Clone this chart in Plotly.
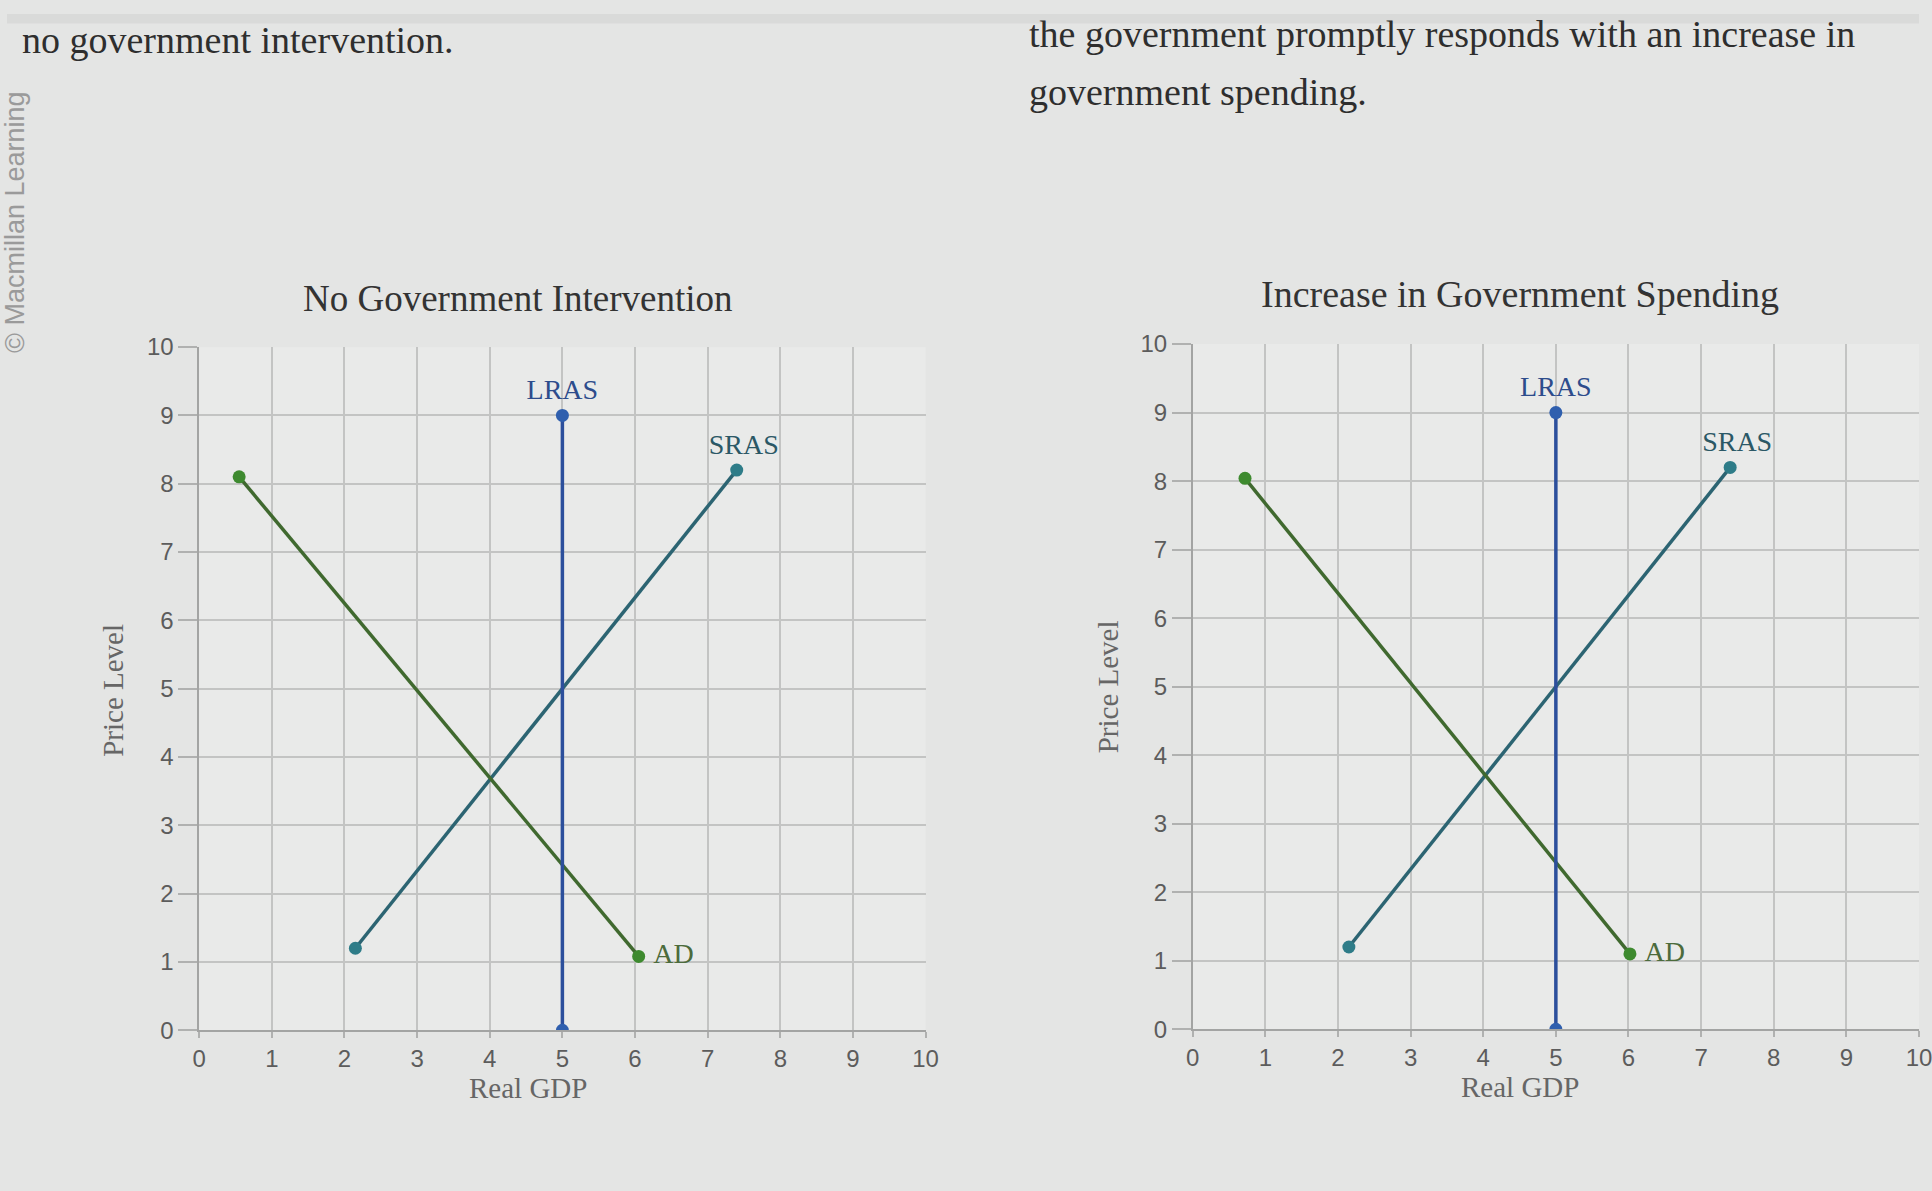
import plotly.graph_objects as go

# ---- data ----
ticks = list(range(0, 11))

left_lras_x = [5, 5]
left_lras_y = [0, 9]
left_sras_x = [2.15, 7.4]
left_sras_y = [1.2, 8.2]
left_ad_x = [0.55, 6.05]
left_ad_y = [8.1, 1.08]

right_lras_x = [5, 5]
right_lras_y = [0, 9]
right_sras_x = [2.15, 7.4]
right_sras_y = [1.2, 8.2]
right_ad_x = [0.72, 6.02]
right_ad_y = [8.04, 1.1]

left_title = "No Government Intervention"
right_title = "Increase in Government Spending"
x_title = "Real GDP"
y_title = "Price Level"
top_left_text = "no government intervention."
top_right_line1 = "the government promptly responds with an increase in"
top_right_line2 = "government spending."
credit_text = "\u00a9 Macmillan Learning"

# ---- styles ----
LRAS_LINE = "#2c4f9c"
LRAS_MARK = "#2f5fae"
SRAS_LINE = "#2c6472"
SRAS_MARK = "#2e7c88"
AD_LINE = "#40692f"
AD_MARK = "#3e8a2f"
SERIF = "Liberation Serif, Times New Roman, serif"
SANS = "Liberation Sans, Arial, sans-serif"

fig = go.Figure()


def add_panel(xa, ya, lras, sras, ad):
    (lx, ly), (sx, sy), (adx, ady) = lras, sras, ad
    fig.add_trace(go.Scatter(
        x=sx, y=sy, xaxis=xa, yaxis=ya, mode="lines+markers+text",
        line=dict(color=SRAS_LINE, width=3.5),
        marker=dict(color=SRAS_MARK, size=13),
        text=["", "\u2002SRAS"], textposition="top center",
        textfont=dict(family=SERIF, size=28, color="#2b5866"),
        showlegend=False, hoverinfo="skip"))
    fig.add_trace(go.Scatter(
        x=adx, y=ady, xaxis=xa, yaxis=ya, mode="lines+markers+text",
        line=dict(color=AD_LINE, width=3.5),
        marker=dict(color=AD_MARK, size=13),
        text=["", " AD"], textposition="middle right",
        textfont=dict(family=SERIF, size=28, color="#4c6b3c"),
        showlegend=False, hoverinfo="skip"))
    fig.add_trace(go.Scatter(
        x=lx, y=ly, xaxis=xa, yaxis=ya, mode="lines+markers+text",
        line=dict(color=LRAS_LINE, width=3.5),
        marker=dict(color=LRAS_MARK, size=13),
        text=["", "LRAS"], textposition="top center",
        textfont=dict(family=SERIF, size=28, color="#2d4c8c"),
        showlegend=False, hoverinfo="skip"))


add_panel("x", "y", (left_lras_x, left_lras_y), (left_sras_x, left_sras_y), (left_ad_x, left_ad_y))
add_panel("x2", "y2", (right_lras_x, right_lras_y), (right_sras_x, right_sras_y), (right_ad_x, right_ad_y))

W, H = 1932, 1191
# calibration of screen position -> paper fraction (measured from earlier renders)
OX, OY, SW, SH = 5.9, 14.5, 1911.0, 1162.0


def clamp(v):
    return max(0.0, min(1.0, v))


def px(x):
    return clamp((x - OX) / SW)


def py(y):
    return clamp(1 - (y - OY) / SH)


def xd(a, b):
    return [px(a), px(b)]


def yd(top, bottom):
    return [py(bottom), py(top)]


axis_common = dict(
    range=[0, 10], tickmode="array", tickvals=ticks, ticktext=[str(t) for t in ticks],
    showgrid=True, gridcolor="#c3c4c3", gridwidth=1.5,
    showline=True, linecolor="#a3a4a3", linewidth=1.5, mirror=False,
    ticks="outside", tickcolor="#b0b1b0", tickwidth=1.5,
    zeroline=False, fixedrange=True,
    tickfont=dict(family=SANS, size=24, color="#5c5c5c"),
)
x_common = dict(axis_common, ticklen=6, ticklabeloverflow="allow")
y_common = dict(axis_common, ticklen=19)

fig.update_layout(
    width=W, height=H,
    margin=dict(l=0, r=0, t=0, b=0),
    paper_bgcolor="#e4e5e4",
    plot_bgcolor="#e9eae9",
    xaxis=dict(x_common, domain=xd(198, 924), anchor="y"),
    yaxis=dict(y_common, domain=yd(347, 1029), anchor="x"),
    xaxis2=dict(x_common, domain=xd(1191, 1922), anchor="y2"),
    yaxis2=dict(y_common, domain=yd(344, 1028), anchor="x2"),
)

# top border strip from the photo
fig.add_shape(type="rect", xref="paper", yref="paper", x0=0, x1=1, y0=py(24), y1=1,
              fillcolor="#d9dad9", line=dict(width=0), layer="below")

annotations = [
    dict(text=left_title, x=px(517), y=py(299), xanchor="center", yanchor="middle",
         font=dict(family=SERIF, size=37, color="#333")),
    dict(text=right_title, x=px(1518), y=py(294), xanchor="center", yanchor="middle",
         font=dict(family=SERIF, size=38, color="#333")),
    dict(text=top_left_text, x=px(19), y=py(40), xanchor="left", yanchor="middle",
         font=dict(family=SERIF, size=38, color="#2e2e2e")),
    dict(text=top_right_line1, x=px(1025), y=py(34), xanchor="left", yanchor="middle",
         font=dict(family=SERIF, size=38, color="#2e2e2e")),
    dict(text=top_right_line2, x=px(1025), y=py(92), xanchor="left", yanchor="middle",
         font=dict(family=SERIF, size=38, color="#2e2e2e")),
    dict(text=x_title, x=px(527), y=py(1087), xanchor="center", yanchor="middle",
         font=dict(family=SERIF, size=29, color="#666")),
    dict(text=x_title, x=px(1518), y=py(1086), xanchor="center", yanchor="middle",
         font=dict(family=SERIF, size=29, color="#666")),
    dict(text=y_title, x=px(112), y=py(690), xanchor="center", yanchor="middle",
         textangle=-90, font=dict(family=SERIF, size=29, color="#666")),
    dict(text=y_title, x=px(1106), y=py(686), xanchor="center", yanchor="middle",
         textangle=-90, font=dict(family=SERIF, size=29, color="#666")),
    dict(text=credit_text, x=px(14), y=py(222), xanchor="center",
         yanchor="middle", textangle=-90, font=dict(family=SANS, size=27, color="#9a9a9a")),
]
for a in annotations:
    fig.add_annotation(xref="paper", yref="paper", showarrow=False, **a)

fig.write_html("out.html")
